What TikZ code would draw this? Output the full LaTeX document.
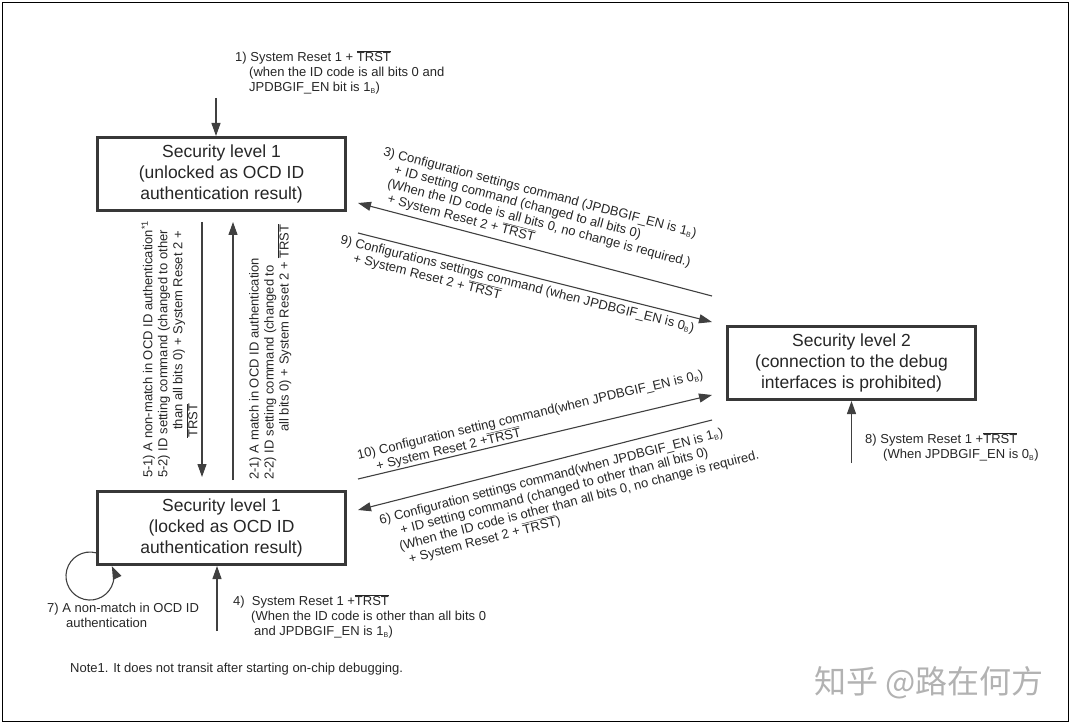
\documentclass[tikz,border=0pt]{standalone}
\usepackage{fontspec}
\setmainfont{Liberation Sans}
\newfontfamily\cjk{Noto Sans CJK SC}
\usetikzlibrary{arrows.meta}
\newcommand\trst{$\overline{\mbox{TRST}}$}
\newcommand\bsub[1]{\textsubscript{\fontsize{7}{7}\selectfont #1}}
\begin{document}
\begin{tikzpicture}[x=1pt,y=1pt,>={Triangle[length=13pt,width=9pt]},
  every node/.style={font=\fontsize{13}{15}\selectfont,text=black!85,inner sep=0pt},
  b/.style={draw=black!78,line width=3pt,minimum width=248pt,minimum height=73pt,align=center,font=\fontsize{17.5}{21}\selectfont},
  l/.style={align=left,anchor=north west},
  a/.style={->,draw=black!75,line width=1.1pt}]
\useasboundingbox (0,0) rectangle (1073,-727);
\draw[line width=1.4pt] (2.5,-2.5) rectangle (1068.5,-721.5);
\node[b] (s1u) at (221.5,-174){Security level 1\\(unlocked as OCD ID\\authentication result)};
\node[b] (s1l) at (221.5,-528){Security level 1\\(locked as OCD ID\\authentication result)};
\node[b] (s2) at (851.5,-363){Security level 2\\(connection to the debug\\interfaces is prohibited)};
\coordinate (r1) at (216,-98);\coordinate (r4) at (217,-631);\coordinate (r8) at (851.5,-463);
\coordinate (r5a) at (202,-222);\coordinate (r5b) at (202,-477);
\coordinate (r2a) at (233,-480);\coordinate (r2b) at (233,-222);
\coordinate (r3a) at (712,-296);\coordinate (r3b) at (358,-203);
\coordinate (r9a) at (358,-233);\coordinate (r9b) at (712,-322);
\coordinate (r10a) at (358,-479);\coordinate (r10b) at (712,-395);
\coordinate (r6a) at (712,-420);\coordinate (r6b) at (358,-510);
\draw[a] (r1)--(r1|-s1u.north);\draw[a] (r4)--(r4|-s1l.south);\draw[a] (r8)--(r8|-s2.south);
\draw[a] (r5a)--(r5b);\draw[a] (r2a)--(r2b);
\draw[a] (r3a)--(r3b);\draw[a] (r9a)--(r9b);\draw[a] (r10a)--(r10b);\draw[a] (r6a)--(r6b);
\draw[a] ([yshift=13.2pt]s1l.south west) arc[start angle=75.5,end angle=384.6,radius=24];
\node[l] (n1) at (235,-50){1) System Reset 1 + \trst\\\hspace*{14pt}(when the ID code is all bits 0 and\\\hspace*{14pt}JPDBGIF\_EN bit is 1\bsub{B})};
\node[l,rotate=90] (n5) at (141.5,-478){5-1) A non-match in OCD ID authentication\textsuperscript{*1}\\5-2) ID setting command (changed to other\\\hspace*{48pt}than all bits 0) + System Reset 2 +\\\hspace*{40pt}\trst};
\node[l,rotate=90] (n2) at (249,-480){2-1) A match in OCD ID authentication\\2-2) ID setting command (changed to\\\hspace*{48pt}all bits 0) + System Reset 2 + \trst};
\node[l,rotate=-14.7] (n3) at (385,-146){3) Configuration settings command (JPDBGIF\_EN is 1\bsub{B})\\\hspace*{15pt}+ ID setting command (changed to all bits 0)\\\hspace*{12pt}(When the ID code is all bits 0, no change is required.)\\\hspace*{16pt}+ System Reset 2 + \trst};
\node[l,rotate=-14.1] (n9) at (342,-234){9) Configurations settings command (when JPDBGIF\_EN is 0\bsub{B})\\\hspace*{17pt}+ System Reset 2 + \trst};
\node[l,rotate=13.2] (n10) at (356,-450){10) Configuration setting command(when JPDBGIF\_EN is 0\bsub{B})\\\hspace*{16pt}+ System Reset 2 +\trst};
\node[l,rotate=14.3] (n6) at (378,-515){6) Configuration settings command(when JPDBGIF\_EN is 1\bsub{B})\\\hspace*{18pt}+ ID setting command (changed to other than all bits 0)\\\hspace*{13pt}(When the ID code is other than all bits 0, no change is required.\\\hspace*{19pt}+ System Reset 2 + \trst)};
\node[l] (n8) at (865,-432){8) System Reset 1 +\trst\\\hspace*{18pt}(When JPDBGIF\_EN is 0\bsub{B})};
\node[l] (n4) at (233,-594){4)~ System Reset 1 +\trst\\\hspace*{18pt}(When the ID code is other than all bits 0\\\hspace*{21pt}and JPDBGIF\_EN is 1\bsub{B})};
\node[l] (n7) at (47,-603){7) A non-match in OCD ID\\\hspace*{19pt}authentication};
\node[l] (nt) at (70,-663){Note1. It does not transit after starting on-chip debugging.};
\node[anchor=west,font=\cjk\fontsize{32}{32}\selectfont,text=black!30] (wm) at (814,-683){知乎 @路在何方};
\end{tikzpicture}
\end{document}
